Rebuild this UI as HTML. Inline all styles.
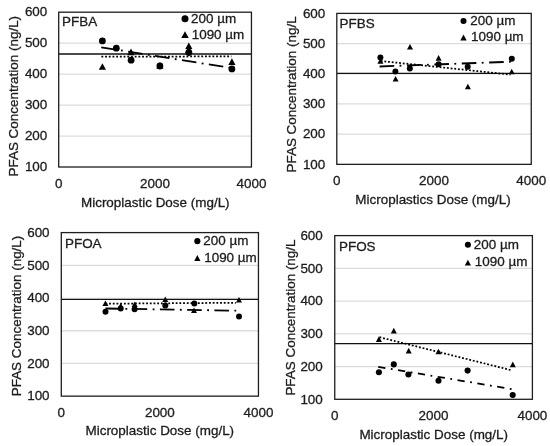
<!DOCTYPE html>
<html><head><meta charset="utf-8"><title>PFAS vs microplastic dose</title>
<style>
html,body{margin:0;padding:0;background:#fff;}
svg{display:block;}
svg text{font-family:"Liberation Sans",sans-serif;font-size:13.45px;fill:#1c1c1c;stroke:#1c1c1c;stroke-width:0.3px;}
</style></head><body>
<svg width="550" height="446" viewBox="0 0 550 446">
<rect width="550" height="446" fill="#fff"/>
<line x1="58.7" x2="251.45" y1="136.04" y2="136.04" stroke="#dcdcdc" stroke-width="1.3"/>
<line x1="58.7" x2="251.45" y1="105.08" y2="105.08" stroke="#dcdcdc" stroke-width="1.3"/>
<line x1="58.7" x2="251.45" y1="74.12" y2="74.12" stroke="#dcdcdc" stroke-width="1.3"/>
<line x1="58.7" x2="251.45" y1="43.16" y2="43.16" stroke="#dcdcdc" stroke-width="1.3"/>
<line x1="58.7" x2="251.45" y1="54.00" y2="54.00" stroke="#111" stroke-width="1.35"/>
<line x1="101.4" y1="56.6" x2="231.4" y2="56.45" stroke="#000" stroke-width="1.75" stroke-dasharray="1.85 1.85"/>
<line x1="101.2" y1="47.3" x2="230" y2="67.8" stroke="#000" stroke-width="1.8" stroke-dasharray="14.6 5.4 1.85 5.4" stroke-dashoffset="0"/>
<path d="M102.40 63.20L106.00 69.80L98.80 69.80Z" fill="#000"/>
<path d="M131.00 48.60L134.60 55.20L127.40 55.20Z" fill="#000"/>
<path d="M159.90 62.10L163.50 68.70L156.30 68.70Z" fill="#000"/>
<path d="M188.80 42.50L192.40 49.10L185.20 49.10Z" fill="#000"/>
<path d="M188.80 46.50L192.40 53.10L185.20 53.10Z" fill="#000"/>
<path d="M231.90 58.35L235.50 64.95L228.30 64.95Z" fill="#000"/>
<circle cx="102.40" cy="40.90" r="3.4" fill="#000"/>
<circle cx="116.30" cy="48.20" r="3.4" fill="#000"/>
<circle cx="131.10" cy="60.20" r="3.4" fill="#000"/>
<circle cx="159.90" cy="66.00" r="3.4" fill="#000"/>
<circle cx="188.80" cy="52.50" r="3.4" fill="#000"/>
<circle cx="231.90" cy="68.90" r="3.4" fill="#000"/>
<rect x="58.7" y="12.2" width="192.75" height="154.80" fill="none" stroke="#1e1e1e" stroke-width="1.3"/>
<text x="47.3" y="170.90" text-anchor="end">100</text>
<text x="47.3" y="139.94" text-anchor="end">200</text>
<text x="47.3" y="108.98" text-anchor="end">300</text>
<text x="47.3" y="78.02" text-anchor="end">400</text>
<text x="47.3" y="47.06" text-anchor="end">500</text>
<text x="47.3" y="16.10" text-anchor="end">600</text>
<text x="58.70" y="188.3" text-anchor="middle">0</text>
<text x="155.07" y="188.3" text-anchor="middle">2000</text>
<text x="251.45" y="188.3" text-anchor="middle">4000</text>
<text x="155.3" y="206.5" text-anchor="middle">Microplastic Dose (mg/L)</text>
<text transform="translate(18.4 176.5) rotate(-90)">PFAS Concentration (ng/L)</text>
<text x="62" y="25.8">PFBA</text>
<circle cx="185.00" cy="18.75" r="3.5" fill="#000"/>
<text x="191" y="22.7">200 µm</text>
<path d="M185.00 31.20L188.75 38.10L181.25 38.10Z" fill="#000"/>
<text x="191.7" y="38.7">1090 µm</text>
<line x1="336.8" x2="531.25" y1="134.16" y2="134.16" stroke="#dcdcdc" stroke-width="1.3"/>
<line x1="336.8" x2="531.25" y1="103.97" y2="103.97" stroke="#dcdcdc" stroke-width="1.3"/>
<line x1="336.8" x2="531.25" y1="73.78" y2="73.78" stroke="#dcdcdc" stroke-width="1.3"/>
<line x1="336.8" x2="531.25" y1="43.59" y2="43.59" stroke="#dcdcdc" stroke-width="1.3"/>
<line x1="336.8" x2="531.25" y1="73.40" y2="73.40" stroke="#111" stroke-width="1.35"/>
<line x1="380.7" y1="61.0" x2="510.5" y2="74.6" stroke="#000" stroke-width="1.75" stroke-dasharray="1.85 1.85"/>
<line x1="379.6" y1="66.5" x2="511.5" y2="61.7" stroke="#000" stroke-width="1.8" stroke-dasharray="14.6 5.4 1.85 5.55" stroke-dashoffset="0"/>
<path d="M380.40 58.10L383.40 63.70L377.40 63.70Z" fill="#000"/>
<path d="M395.60 76.00L398.60 81.60L392.60 81.60Z" fill="#000"/>
<path d="M410.00 44.00L413.00 49.60L407.00 49.60Z" fill="#000"/>
<path d="M438.60 55.10L441.60 60.70L435.60 60.70Z" fill="#000"/>
<path d="M467.90 83.70L470.90 89.30L464.90 89.30Z" fill="#000"/>
<path d="M511.70 68.70L514.70 74.30L508.70 74.30Z" fill="#000"/>
<circle cx="380.40" cy="57.60" r="3.0" fill="#000"/>
<circle cx="395.40" cy="71.50" r="3.0" fill="#000"/>
<circle cx="409.80" cy="68.50" r="3.0" fill="#000"/>
<circle cx="438.60" cy="64.20" r="3.0" fill="#000"/>
<circle cx="467.70" cy="66.80" r="3.0" fill="#000"/>
<circle cx="511.80" cy="58.80" r="3.0" fill="#000"/>
<rect x="336.8" y="13.4" width="194.45" height="150.95" fill="none" stroke="#1e1e1e" stroke-width="1.3"/>
<text x="325.3" y="168.55" text-anchor="end">100</text>
<text x="325.3" y="138.36" text-anchor="end">200</text>
<text x="325.3" y="108.17" text-anchor="end">300</text>
<text x="325.3" y="77.98" text-anchor="end">400</text>
<text x="325.3" y="47.79" text-anchor="end">500</text>
<text x="325.3" y="17.60" text-anchor="end">600</text>
<text x="336.80" y="184.5" text-anchor="middle">0</text>
<text x="434.02" y="184.5" text-anchor="middle">2000</text>
<text x="531.25" y="184.5" text-anchor="middle">4000</text>
<text x="433" y="203.5" text-anchor="middle">Microplastics Dose (mg/L)</text>
<text transform="translate(295.9 172.5) rotate(-90)">PFAS Concentration (ng/L</text>
<text x="339.6" y="28.2">PFBS</text>
<circle cx="463.50" cy="20.90" r="3.0" fill="#000"/>
<text x="470.3" y="25.2">200 µm</text>
<path d="M463.50 34.50L466.70 40.50L460.30 40.50Z" fill="#000"/>
<text x="471.0" y="41.1">1090 µm</text>
<line x1="61.3" x2="258.45" y1="363.44" y2="363.44" stroke="#dcdcdc" stroke-width="1.3"/>
<line x1="61.3" x2="258.45" y1="330.73" y2="330.73" stroke="#dcdcdc" stroke-width="1.3"/>
<line x1="61.3" x2="258.45" y1="298.02" y2="298.02" stroke="#f0f0f0" stroke-width="1.3"/>
<line x1="61.3" x2="258.45" y1="265.31" y2="265.31" stroke="#dcdcdc" stroke-width="1.3"/>
<line x1="61.3" x2="258.45" y1="299.40" y2="299.40" stroke="#111" stroke-width="1.35"/>
<line x1="105.4" y1="303.7" x2="235.8" y2="302.8" stroke="#000" stroke-width="1.75" stroke-dasharray="1.85 1.85"/>
<line x1="105.4" y1="308.5" x2="236.2" y2="310.7" stroke="#000" stroke-width="1.8" stroke-dasharray="14.6 5.4 1.85 5.4" stroke-dashoffset="0"/>
<path d="M105.40 300.40L108.40 306.00L102.40 306.00Z" fill="#000"/>
<path d="M120.70 303.00L123.70 308.60L117.70 308.60Z" fill="#000"/>
<path d="M134.70 301.50L137.70 307.10L131.70 307.10Z" fill="#000"/>
<path d="M165.30 296.40L168.30 302.00L162.30 302.00Z" fill="#000"/>
<path d="M194.00 307.40L197.00 313.00L191.00 313.00Z" fill="#000"/>
<path d="M239.00 296.90L242.00 302.50L236.00 302.50Z" fill="#000"/>
<circle cx="105.50" cy="311.80" r="3.0" fill="#000"/>
<circle cx="120.70" cy="308.50" r="3.0" fill="#000"/>
<circle cx="134.60" cy="309.30" r="3.0" fill="#000"/>
<circle cx="165.30" cy="305.60" r="3.0" fill="#000"/>
<circle cx="194.30" cy="303.40" r="3.0" fill="#000"/>
<circle cx="239.00" cy="316.60" r="3.0" fill="#000"/>
<rect x="61.3" y="232.6" width="197.15" height="163.55" fill="none" stroke="#1e1e1e" stroke-width="1.3"/>
<text x="49.6" y="400.35" text-anchor="end">100</text>
<text x="49.6" y="367.64" text-anchor="end">200</text>
<text x="49.6" y="334.93" text-anchor="end">300</text>
<text x="49.6" y="302.22" text-anchor="end">400</text>
<text x="49.6" y="269.51" text-anchor="end">500</text>
<text x="49.6" y="236.80" text-anchor="end">600</text>
<text x="61.30" y="416.5" text-anchor="middle">0</text>
<text x="159.88" y="416.5" text-anchor="middle">2000</text>
<text x="258.45" y="416.5" text-anchor="middle">4000</text>
<text x="159.8" y="435.2" text-anchor="middle">Microplastic Dose (mg/L)</text>
<text transform="translate(20.8 396.3) rotate(-90)">PFAS Concentration (ng/L)</text>
<text x="65" y="247.6">PFOA</text>
<circle cx="197.35" cy="241.15" r="3.05" fill="#000"/>
<text x="203.3" y="245.4">200 µm</text>
<path d="M197.35 255.10L200.45 260.90L194.25 260.90Z" fill="#000"/>
<text x="204.2" y="261.5">1090 µm</text>
<line x1="334.75" x2="532.4" y1="366.56" y2="366.56" stroke="#dcdcdc" stroke-width="1.3"/>
<line x1="334.75" x2="532.4" y1="333.82" y2="333.82" stroke="#dcdcdc" stroke-width="1.3"/>
<line x1="334.75" x2="532.4" y1="301.08" y2="301.08" stroke="#dcdcdc" stroke-width="1.3"/>
<line x1="334.75" x2="532.4" y1="268.34" y2="268.34" stroke="#dcdcdc" stroke-width="1.3"/>
<line x1="334.75" x2="532.4" y1="343.60" y2="343.60" stroke="#111" stroke-width="1.35"/>
<line x1="379.5" y1="337.2" x2="510.6" y2="370.0" stroke="#000" stroke-width="1.75" stroke-dasharray="1.85 1.85"/>
<line x1="378.2" y1="366.85" x2="511.6" y2="389.1" stroke="#000" stroke-width="1.8" stroke-dasharray="7.3 5.5 1.8 5.5" stroke-dashoffset="0"/>
<path d="M378.90 336.35L381.90 342.05L375.90 342.05Z" fill="#000"/>
<path d="M393.80 327.75L396.80 333.45L390.80 333.45Z" fill="#000"/>
<path d="M408.70 347.85L411.70 353.55L405.70 353.55Z" fill="#000"/>
<path d="M438.50 348.65L441.50 354.35L435.50 354.35Z" fill="#000"/>
<path d="M512.80 361.45L515.80 367.15L509.80 367.15Z" fill="#000"/>
<circle cx="378.90" cy="372.20" r="3.05" fill="#000"/>
<circle cx="393.80" cy="364.40" r="3.05" fill="#000"/>
<circle cx="408.40" cy="374.50" r="3.05" fill="#000"/>
<circle cx="438.50" cy="380.80" r="3.05" fill="#000"/>
<circle cx="467.60" cy="370.60" r="3.05" fill="#000"/>
<circle cx="512.70" cy="395.00" r="3.05" fill="#000"/>
<rect x="334.75" y="235.6" width="197.65" height="163.70" fill="none" stroke="#1e1e1e" stroke-width="1.3"/>
<text x="322.8" y="403.55" text-anchor="end">100</text>
<text x="322.8" y="370.81" text-anchor="end">200</text>
<text x="322.8" y="338.07" text-anchor="end">300</text>
<text x="322.8" y="305.33" text-anchor="end">400</text>
<text x="322.8" y="272.59" text-anchor="end">500</text>
<text x="322.8" y="239.85" text-anchor="end">600</text>
<text x="334.75" y="419.9" text-anchor="middle">0</text>
<text x="433.57" y="419.9" text-anchor="middle">2000</text>
<text x="532.40" y="419.9" text-anchor="middle">4000</text>
<text x="433.7" y="438.65" text-anchor="middle">Microplastic Dose (mg/L)</text>
<text transform="translate(295.1 395.6) rotate(-90)">PFAS Concentration (ng/L</text>
<text x="339" y="250.7">PFOS</text>
<circle cx="467.90" cy="244.70" r="3.05" fill="#000"/>
<text x="473.8" y="248.7">200 µm</text>
<path d="M467.90 259.70L471.00 265.50L464.80 265.50Z" fill="#000"/>
<text x="474.8" y="266.3">1090 µm</text>
</svg>
</body></html>
